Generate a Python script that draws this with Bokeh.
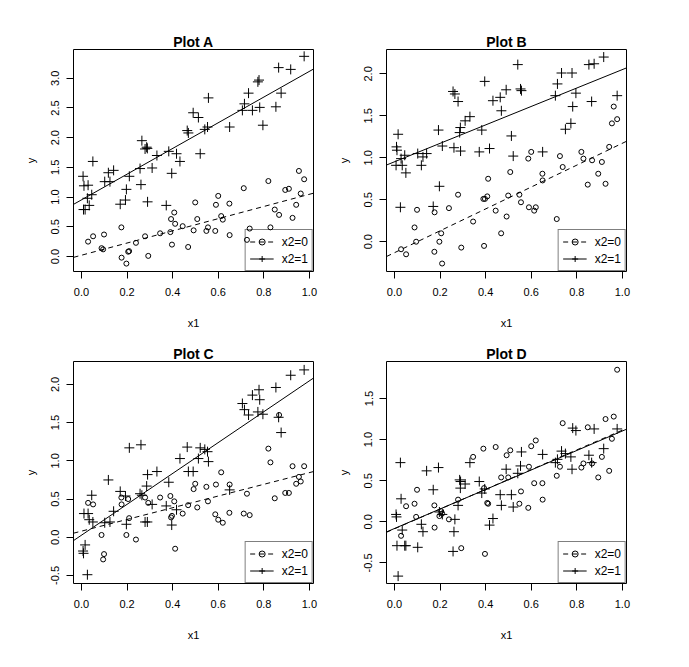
import numpy as np
from bokeh.plotting import figure
from bokeh.layouts import gridplot
from bokeh.models import Range1d, FixedTicker, PrintfTickFormatter, Legend, LegendItem
from bokeh.embed import file_html
from bokeh.resources import INLINE

# x1 values (shared by the four plots), group x2=0 and group x2=1
x1_g0 = [0.029, 0.051, 0.088, 0.095, 0.099, 0.175, 0.176, 0.197, 0.205, 0.209,
         0.239, 0.279, 0.293, 0.345, 0.390, 0.393, 0.397, 0.407, 0.411, 0.444,
         0.468, 0.492, 0.499, 0.508, 0.548, 0.555, 0.587, 0.590, 0.600, 0.613,
         0.620, 0.649, 0.650, 0.712, 0.726, 0.738, 0.820, 0.829, 0.848, 0.867,
         0.894, 0.910, 0.926, 0.942, 0.954, 0.962, 0.977]
x1_g1 = [0.007, 0.009, 0.011, 0.016, 0.026, 0.029, 0.034, 0.045, 0.050,
         0.102, 0.118, 0.125, 0.141, 0.170, 0.193, 0.197, 0.210,
         0.257, 0.261, 0.265, 0.279, 0.286, 0.289, 0.290, 0.310, 0.331,
         0.372, 0.383, 0.396, 0.417, 0.432,
         0.464, 0.469, 0.490,
         0.513, 0.521, 0.541, 0.553, 0.557,
         0.650,
         0.706, 0.715, 0.733, 0.750,
         0.774, 0.779, 0.782, 0.796,
         0.853, 0.865, 0.876,
         0.918, 0.977]

# y values, x2=0
yA0 = [0.25, 0.34, 0.14, 0.12, 0.37, 0.49, -0.02, -0.12, 0.08, 0.09,
       0.23, 0.34, 0.01, 0.39, 0.41, 0.63, 0.20, 0.74, 0.55, 0.51,
       0.16, 0.44, 0.91, 0.63, 0.43, 0.49, 0.43, 0.87, 1.02, 0.68,
       0.62, 0.89, 0.36, 1.15, 0.28, 0.47, 1.27, 0.49, 0.79, 0.70,
       1.12, 1.14, 0.65, 0.87, 1.44, 1.06, 1.30]
yB0 = [-0.09, -0.15, 0.17, 0.00, 0.38, -0.12, 0.35, 0.00, 0.10, -0.26,
       0.40, 0.56, -0.07, 0.24, 0.51, -0.05, 0.51, 0.54, 0.75, 0.37,
       0.10, 0.30, 0.55, 0.83, 0.56, 0.47, 0.99, 0.41, 1.07, 0.37,
       0.41, 0.81, 0.73, 0.27, 1.02, 0.89, 1.07, 0.99, 0.68, 0.97,
       0.81, 0.95, 0.69, 1.13, 1.41, 1.61, 1.46]
yC0 = [0.45, 0.43, 0.03, -0.29, -0.22, 0.52, 0.43, 0.03, 0.50, 0.25,
       -0.03, 0.52, 0.45, 0.52, 0.54, 0.26, 0.28, 0.47, -0.15, 0.31,
       0.42, 0.63, 0.70, 0.39, 0.66, 0.47, 0.30, 0.69, 0.23, 0.85,
       0.19, 0.32, 0.69, 0.31, 0.57, 0.29, 1.16, 0.98, 0.51, 1.60,
       0.58, 0.58, 0.93, 0.70, 0.79, 0.73, 0.93]
yD0 = [-0.17, 0.19, 0.22, 0.06, 0.39, 0.20, -0.07, 0.07, 0.13, 0.10,
       0.03, 0.27, -0.32, 0.79, 0.89, 0.41, -0.39, 0.23, 0.22, 0.91,
       0.54, 0.81, 0.54, 0.87, 0.22, 0.37, 0.17, 0.67, 0.92, 0.47,
       0.99, 0.47, 0.27, 0.56, 0.67, 1.20, 0.66, 0.71, 1.15, 0.71,
       0.54, 0.79, 1.25, 0.62, 1.01, 1.28, 1.85]

# y values, x2=1
yA1 = [1.35, 0.79, 1.19, 0.79, 0.98, 1.20, 0.86, 1.04, 1.60,
       1.26, 1.41, 1.26, 1.45, 0.88, 0.95, 1.13, 1.35,
       1.48, 1.21, 1.95, 1.81, 1.84, 1.82, 0.92, 1.49, 1.70,
       0.86, 1.77, 1.40, 1.73, 1.60,
       2.12, 2.08, 2.42,
       2.34, 1.73, 2.14, 2.18, 2.67,
       2.18,
       2.46, 2.57, 2.75, 2.46,
       2.94, 2.97, 2.51, 2.21,
       2.52, 3.18, 2.75,
       3.15, 3.37]
yB1 = [0.91, 1.13, 1.09, 1.28, 0.41, 0.99, 0.91, 1.03, 0.82,
       1.05, 0.91, 1.01, 1.05, 0.42, 1.33, 0.66, 1.14,
       1.79, 1.12, 1.76, 1.67, 1.30, 1.36, 1.08, 1.44, 1.49,
       1.07, 1.33, 1.91, 1.11, 1.68,
       1.72, 1.56, 1.81,
       1.26, 1.02, 2.11, 1.82, 1.80,
       1.07,
       1.74, 1.88, 2.01, 1.34,
       1.41, 2.01, 1.61, 1.77,
       2.11, 1.67, 2.12,
       2.20, 1.74]
yC1 = [-0.18, -0.21, 0.31, -0.10, -0.49, 0.31, 0.23, 0.55, 0.20,
       0.19, 0.75, 0.20, 0.34, 0.60, 0.54, 0.17, 1.17,
       0.57, 1.21, 0.55, 0.20, 0.67, 0.20, 0.82, 0.43, 0.86,
       0.41, 0.72, 0.16, 0.36, 1.03,
       1.18, 0.86, 0.86,
       1.03, 1.17, 1.15, 1.12, 0.99,
       0.62,
       1.75, 1.67, 1.60, 1.86,
       1.64, 1.93, 1.80, 1.61,
       1.96, 1.57, 1.37,
       2.12, 2.19]
yD1 = [0.09, 0.06, -0.29, -0.66, 0.72, 0.28, -0.10, -0.29, -0.29,
       -0.31, -0.03, -0.12, 0.62, 0.39, 0.66, 0.12, 0.09,
       -0.36, -0.12, 0.03, 0.20, 0.51, 0.41, 0.49, 0.46, 0.72,
       0.49, 0.35, 0.40, -0.04, 0.04,
       0.33, 0.20, 0.64,
       0.33, 0.18, 0.59, 0.68, 0.85,
       0.82,
       0.72, 0.76, 0.86, 0.83,
       0.79, 0.64, 1.14, 1.11,
       0.81, 0.72, 1.13,
       0.89, 1.13]

# fitted lines (intercept, slope) per plot
titles = ["Plot A", "Plot B", "Plot C", "Plot D"]
icpt0 = [0.021, -0.131, 0.080, -0.085]
slope0 = [1.026, 1.304, 0.766, 1.200]
icpt1 = [0.953, 0.952, 0.027, -0.081]
slope1 = [2.164, 1.099, 2.020, 1.186]

y_lims = [(-0.253, 3.485), (-0.355, 2.29), (-0.605, 2.30), (-0.75, 1.95)]
y_ticks = [[0, 0.5, 1, 1.5, 2, 2.5, 3, 3.5], [0, 0.5, 1, 1.5, 2],
           [-0.5, 0, 0.5, 1, 1.5, 2], [-0.5, 0, 0.5, 1, 1.5]]
x_lim = (-0.035, 1.018)
x_ticks = [0, 0.2, 0.4, 0.6, 0.8, 1.0]

FONT = "Liberation Sans"
ys0 = [yA0, yB0, yC0, yD0]
ys1 = [yA1, yB1, yC1, yD1]


def make_panel(i, top, left):
    p = figure(frame_width=240, frame_height=222,
               min_border_left=left, min_border_right=8,
               min_border_top=top, min_border_bottom=60,
               x_range=Range1d(*x_lim), y_range=Range1d(*y_lims[i]),
               output_backend="svg", toolbar_location=None)
    p.title.text = titles[i]
    p.title.align = "center"
    p.title.text_font = FONT
    p.title.text_font_size = "14px"
    p.title.text_font_style = "bold"
    p.title.text_color = "black"
    p.title.standoff = 0
    p.outline_line_color = "black"
    p.outline_line_alpha = 1
    p.xgrid.visible = False
    p.ygrid.visible = False

    for ax in (p.xaxis[0], p.yaxis[0]):
        ax.axis_line_color = None
        ax.major_tick_out = 7
        ax.major_tick_in = 0
        ax.minor_tick_line_color = None
        ax.major_tick_line_color = "black"
        ax.major_label_text_font = FONT
        ax.major_label_text_font_size = "11px"
        ax.major_label_text_color = "black"
        ax.axis_label_text_font = FONT
        ax.axis_label_text_font_size = "11px"
        ax.axis_label_text_font_style = "normal"
        ax.axis_label_text_color = "black"
        ax.formatter = PrintfTickFormatter(format="%.1f")
    p.xaxis.ticker = FixedTicker(ticks=x_ticks)
    p.yaxis.ticker = FixedTicker(ticks=y_ticks[i])
    p.yaxis.major_label_orientation = "vertical"
    p.xaxis.axis_label = "x1"
    p.yaxis.axis_label = "y"
    p.xaxis.major_label_standoff = 9
    p.yaxis.major_label_standoff = 7
    p.xaxis.axis_label_standoff = 18
    p.yaxis.axis_label_standoff = 12

    xs = np.array(x_lim)
    l0 = p.line(xs, icpt0[i] + slope0[i] * xs, color="black", line_width=1, line_dash="5 4")
    l1 = p.line(xs, icpt1[i] + slope1[i] * xs, color="black", line_width=1)
    c0 = p.scatter(x1_g0, ys0[i], marker="circle", size=5, fill_color=None,
                   line_color="black", line_width=1)
    c1 = p.scatter(x1_g1, ys1[i], marker="cross", size=10, line_color="black", line_width=1)

    leg = Legend(items=[LegendItem(label="x2=0", renderers=[l0, c0]),
                        LegendItem(label="x2=1", renderers=[l1, c1])],
                 location="bottom_right", margin=0, padding=4, spacing=2,
                 glyph_width=24, glyph_height=15, label_standoff=8,
                 label_text_font=FONT, label_text_font_size="12px",
                 label_text_color="black", label_height=14,
                 border_line_color="black", border_line_width=1,
                 background_fill_alpha=0)
    p.add_layout(leg, "center")
    return p


pA = make_panel(0, 49, 73)
pB = make_panel(1, 49, 65)
pC = make_panel(2, 30, 73)
pD = make_panel(3, 30, 65)

grid = gridplot([[pA, pB], [pC, pD]], toolbar_location=None)

open("out.html", "w").write(file_html(grid, INLINE))
